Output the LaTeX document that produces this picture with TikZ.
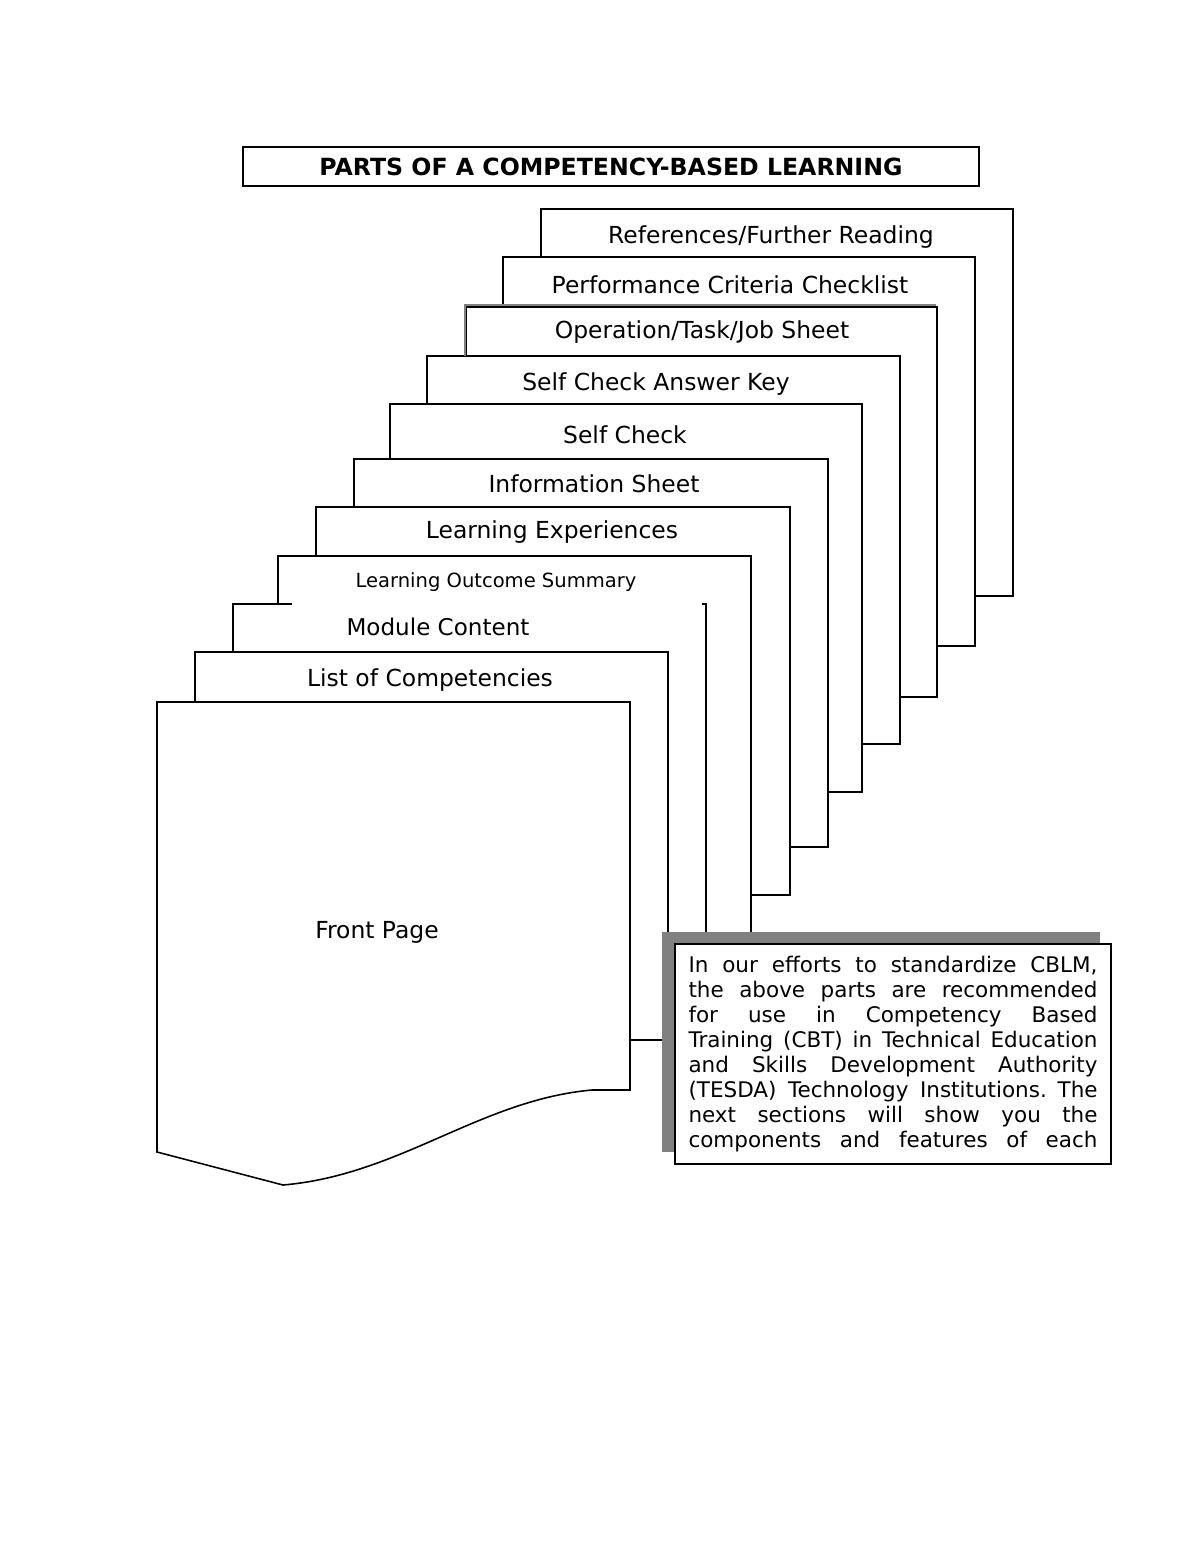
\documentclass[tikz,border=0pt]{standalone}
\usepackage{fontspec}
\setmainfont{DejaVu Sans}
\definecolor{shadegray}{HTML}{808080}
\tikzset{
  sheet/.style={draw=black, line width=0.8pt, fill=white},
  edge/.style={draw=black, line width=0.8pt},
  lbl/.style={font=\fontsize{12}{14}\selectfont, inner sep=0pt},
}
\newcommand{\jline}[1]{\hbox to 208.6bp{\spaceskip=\fontdimen2\font plus 1fil\relax #1}}
\begin{document}
\begin{tikzpicture}[x=0.51bp,y=-0.51bp]
\useasboundingbox (0,0) rectangle (1200,1553);
% Titel
\node[draw, line width=0.8pt, minimum width=375.4bp, minimum height=19.9bp,
  font=\bfseries\fontsize{12.1}{14}\selectfont] (title) at (611,166.5)
  {PARTS OF A COMPETENCY-BASED LEARNING};

% Blaetter von hinten nach vorne
\foreach \l/\t/\r/\b/\cx/\ly/\nm/\txt in {
    541/209/1013/596/771/237/refs/{References/Further Reading},
    503/257/975/646/730/285/pcc/{Performance Criteria Checklist},
    466/307/937/697/702/332/ops/{Operation/Task/Job Sheet},
    427/356/900/744/656/384/scak/{Self Check Answer Key},
    390/404/862/792/625/435/sc/{Self Check},
    354/459/828/847/594/484/info/{Information Sheet},
    316/507/790/895/552/532/lexp/{Learning Experiences}}
{
    \draw[sheet] (\l,\t) rectangle (\r,\b);
    \node[lbl] (\nm) at (\cx,\ly) {\txt};
}
\draw[gray, line width=0.6pt] (465,356) -- (465,305) -- (936,305);

% Learning Outcome Summary
\fill[white] (278,556) rectangle (751,940);
\draw[edge] (278,604) -- (278,556) -- (751,556) -- (751,940);
\node[lbl, font=\fontsize{10}{12}\selectfont] (los) at (496,582) {Learning Outcome Summary};
% Module Content
\fill[white] (233,604) rectangle (706,940);
\draw[edge] (233,652) -- (233,604) -- (292,604);
\draw[edge] (702,604) -- (706,604) -- (706,940);
\node[lbl, font=\fontsize{11.8}{13}\selectfont] (mod) at (438,627) {Module Content};
% List of Competencies
\fill[white] (195,652) rectangle (668,940);
\draw[edge] (195,702) -- (195,652) -- (668,652) -- (668,940);
\node[lbl] (loc) at (430,680) {List of Competencies};

% Front Page
\draw[sheet] (157,702) -- (630,702) -- (630,1090) -- (592,1090)
  .. controls (480,1100) and (400,1175) .. (283,1185) -- (157,1152) -- cycle;
\node[lbl] (front) at (377,932) {Front Page};
\coordinate (fpout) at (630,1040);

% Hinweis mit Schatten
\node[fill=shadegray, minimum width=223.4bp, minimum height=112.2bp,
  anchor=north west, inner sep=0pt] (noteshade) at (662,932) {};
\draw[edge] (fpout) -- (fpout -| noteshade.west);
\node[draw, line width=0.8pt, fill=white, anchor=north west, text width=208.6bp,
  inner xsep=7bp, inner ysep=0pt, minimum height=112.2bp,
  font=\fontsize{11}{12.8}\selectfont] (note) at (674,943) {%
  \jline{In our efforts to standardize CBLM,}
  \jline{the above parts are recommended}
  \jline{for use in Competency Based}
  \jline{Training (CBT) in Technical Education}
  \jline{and Skills Development Authority}
  \jline{(TESDA) Technology Institutions. The}
  \jline{next sections will show you the}
  \jline{components and features of each}};
\end{tikzpicture}
\end{document}
